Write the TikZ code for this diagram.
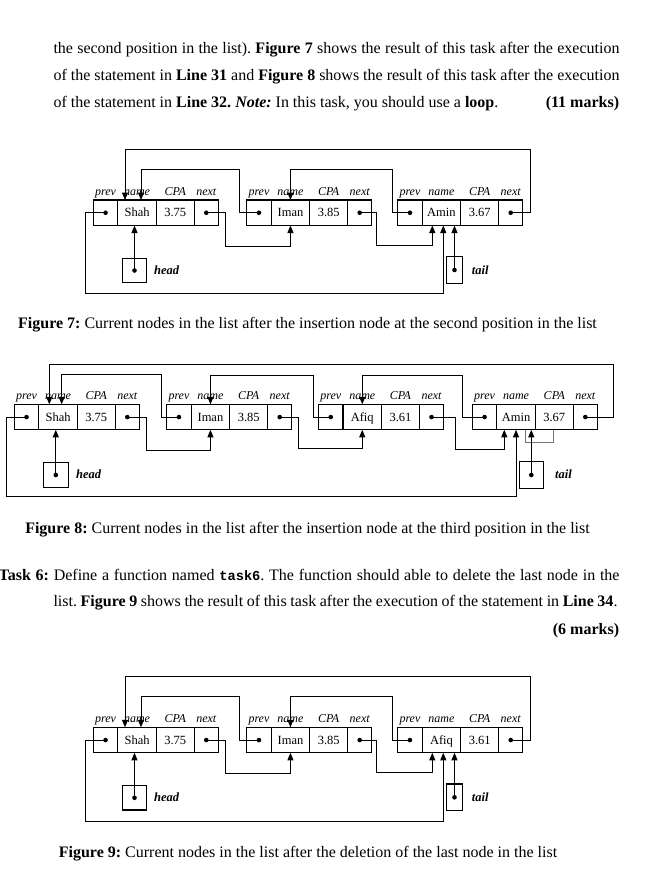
\documentclass[tikz,border=0pt]{standalone}
\usepackage{fontspec}
\setmainfont{Liberation Serif}
\setmonofont{Liberation Mono}
\usetikzlibrary{arrows.meta}
\frenchspacing
\tikzset{
  cell/.style={draw, line width=1.1pt, minimum height=25.5pt, inner sep=0pt, outer sep=0pt, text height=9.5pt, text depth=1.5pt, font=\fontsize{12.5}{14}\selectfont},
  lab/.style={anchor=base, inner sep=0pt, font=\fontsize{12}{14}\selectfont\itshape},
  arr/.style={line width=1pt, -{Triangle[length=7.5pt,width=6pt]}},
  ptrbox/.style={draw, line width=1.1pt, inner sep=0pt, outer sep=0pt},
  ptrlab/.style={anchor=base west, inner sep=0pt, font=\fontsize{12.5}{14}\selectfont\bfseries\itshape},
  body/.style={anchor=base west, inner sep=0pt, font=\fontsize{16}{18}\selectfont\frenchspacing},
  dotfill/.style={fill=black},
}
\newcommand\listnode[5]{%
  \node[cell, minimum width=24.5pt, anchor=north west] (#1p) at (#2,#3) {};
  \node[cell, minimum width=38.5pt, anchor=north west] (#1n) at (#1p.north east) {#4};
  \node[cell, minimum width=38pt, anchor=north west] (#1c) at (#1n.north east) {#5};
  \node[cell, minimum width=24pt, anchor=north west] (#1x) at (#1c.north east) {};
  \fill[dotfill] (#1p.center) circle (2.3pt);
  \fill[dotfill] (#1x.center) circle (2.3pt);
  \node[lab] (#1lp) at ([yshift=5pt]#1p.north) {prev};
  \node[lab] (#1ln) at ([yshift=5pt]#1n.north) {name};
  \node[lab] (#1lc) at ([yshift=5pt]#1c.north) {CPA};
  \node[lab] (#1lx) at ([yshift=5pt]#1x.north) {next};
}
\newcommand\threefig[4]{%
  \listnode{#1a}{93.3}{#2}{Shah}{3.75}
  \listnode{#1b}{246.7}{#2}{Iman}{3.85}
  \listnode{#1c}{397.7}{#2}{#3}{#4}
  \draw[arr] (#1cx.center) -- ++(19.3,0) |- ([xshift=7.2pt,yshift=50.7pt]#1an.north west) -- ([xshift=7.2pt]#1an.north west);
  \draw[arr] (#1bp.center) -- ++(-19,0) |- ([xshift=23.2pt,yshift=30.7pt]#1an.north west) -- ([xshift=23.2pt]#1an.north west);
  \draw[arr] (#1cp.center) -- ++(-17.7,0) |- ([yshift=30.7pt]#1bn.north) -- (#1bn.north);
  \draw[arr] (#1ax.center) -- ++(19,0) |- ([yshift=-20.5pt]#1bn.south) -- (#1bn.south);
  \draw[arr] (#1bx.center) -- ++(17,0) |- ([xshift=10.1pt,yshift=-19.5pt]#1cn.south west) -- ([xshift=10.1pt]#1cn.south west);
  \draw[arr] (#1ap.center) -- ++(-20.5,0) |- ([xshift=21.1pt,yshift=-68.3pt]#1cn.south west) -- ([xshift=21.1pt]#1cn.south west);
  \node[ptrbox, minimum width=24.4pt, minimum height=24.4pt] (#1head) at (134.5,{#2+70.5}) {};
  \fill[dotfill] (#1head.center) circle (2.3pt);
  \draw[arr] (#1head.center) -- (#1head.center |- #1an.south);
  \node[ptrlab] (#1headl) at (154,{#2+74.5}) {head};
  \node[ptrbox, minimum width=15.6pt, minimum height=26.6pt] (#1tail) at (454.5,{#2+70}) {};
  \fill[dotfill] (#1tail.center) circle (2.3pt);
  \draw[arr] (#1tail.center) -- (#1tail.center |- #1cn.south);
  \node[ptrlab] (#1taill) at (471.7,{#2+74.5}) {tail};
}
\begin{document}
\begin{tikzpicture}[x=1pt,y=-1pt]
\useasboundingbox (0,0) rectangle (660,891);
\fill[white] (0,0) rectangle (660,891);

% ---- top paragraph
\node[body] (l1) at (53.3,54) {\makebox[566pt][s]{the second position in the list). \textbf{Figure 7} shows the result of this task after the execution}};
\node[body] (l2) at (53.3,80.7) {\makebox[566pt][s]{of the statement in \textbf{Line 31} and \textbf{Figure 8} shows the result of this task after the execution}};
\node[body] (l3) at (53.3,107.5) {of the statement in \textbf{Line 32.} \textbf{\textit{Note:}} In this task, you should use a \textbf{loop}.};
\node[body, anchor=base east] (l3m) at (619.3,107.5) {\textbf{(11 marks)}};

% ---- Figure 7
\threefig{f7}{200}{Amin}{3.67}
\node[body, anchor=base] (cap7) at (307.5,328.3) {\textbf{Figure 7:} Current nodes in the list after the insertion node at the second position in the list};

% ---- Figure 8
\listnode{f8a}{14.3}{404.3}{Shah}{3.75}
\listnode{f8b}{166.7}{404.3}{Iman}{3.85}
\listnode{f8c}{318.5}{404.3}{Afiq}{3.61}
\listnode{f8d}{472.3}{404.3}{Amin}{3.67}
\draw[arr] (f8dx.center) -- ++(28,0) |- ([xshift=10.5pt,yshift=40pt]f8an.north west) -- ([xshift=10.5pt]f8an.north west);
\draw[arr] (f8bp.center) -- ++(-17.5,0) |- ([xshift=22.9pt,yshift=30.3pt]f8an.north west) -- ([xshift=22.9pt]f8an.north west);
\draw[arr] (f8cp.center) -- ++(-17.5,0) |- ([yshift=29.3pt]f8bn.north) -- (f8bn.north);
\draw[arr] (f8dp.center) -- ++(-21.8,0) |- ([yshift=28.6pt]f8cn.north) -- (f8cn.north);
\draw[arr] (f8ax.center) -- ++(19,0) |- ([yshift=-20.7pt]f8bn.south) -- (f8bn.south);
\draw[arr] (f8bx.center) -- ++(18.3,0) |- ([yshift=-18.5pt]f8cn.south) -- (f8cn.south);
\draw[arr] (f8cx.center) -- ++(24,0) |- ([xshift=7.5pt,yshift=-19.5pt]f8dn.south west) -- ([xshift=7.5pt]f8dn.south west);
\draw[arr] (f8ap.center) -- ++(-20.5,0) |- ([xshift=19.2pt,yshift=-67pt]f8dn.south west) -- ([xshift=19.2pt]f8dn.south west);
\draw[line width=1pt, black!55] ([xshift=28.9pt]f8dn.south west) -- ++(0,13) -| ([xshift=56.5pt]f8dn.south west);
\node[ptrbox, minimum width=25pt, minimum height=25.4pt] (f8head) at (55.8,475) {};
\fill[dotfill] (f8head.center) circle (2.3pt);
\draw[arr] (f8head.center) -- (f8head.center |- f8an.south);
\node[ptrlab] (f8headl) at (76,478.5) {head};
\node[ptrbox, minimum width=24pt, minimum height=26.6pt] (f8tail) at (531.3,475) {};
\fill[dotfill] (f8tail.center) circle (2.3pt);
\draw[arr] (f8tail.center) -- (f8tail.center |- f8dn.south);
\node[ptrlab] (f8taill) at (555,478.5) {tail};
\node[body, anchor=base] (cap8) at (307.5,533) {\textbf{Figure 8:} Current nodes in the list after the insertion node at the third position in the list};

% ---- Task 6
\node[body] (t1) at (-1.5,580) {\makebox[620.8pt][s]{\textbf{Task 6:} Define a function named {\fontsize{13.7}{16}\selectfont\ttfamily\bfseries task6}. The function should able to delete the last node in the}};
\node[body] (t2) at (53.3,606.7) {\makebox[564pt][s]{list. \textbf{Figure 9} shows the result of this task after the execution of the statement in \textbf{Line 34}.}};
\node[body, anchor=base east] (t3) at (619.3,634) {\textbf{(6 marks)}};

% ---- Figure 9
\threefig{f9}{727.3}{Afiq}{3.61}
\node[body, anchor=base] (cap9) at (308,857) {\textbf{Figure 9:} Current nodes in the list after the deletion of the last node in the list};
\end{tikzpicture}
\end{document}
